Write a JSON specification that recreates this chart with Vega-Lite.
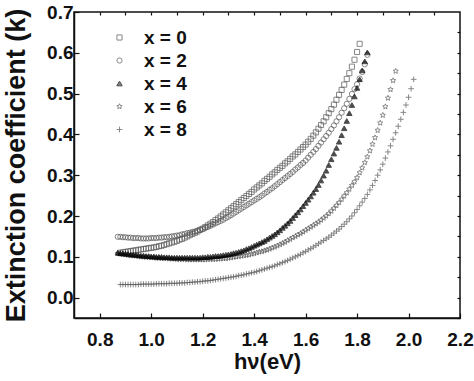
{
"$schema": "https://vega.github.io/schema/vega-lite/v6.json",
"autosize": {"type": "none"},
"padding": {"left": 74, "top": 12, "right": 14, "bottom": 63},
"width": 386,
"height": 306,
"background": "white",
"config": {
  "view": {"stroke": "#111", "strokeWidth": 1.5},
  "axis": {"labelFont": "Liberation Sans", "labelFontWeight": "bold", "labelFontSize": 19, "labelColor": "#111", "titleFont": "Liberation Sans", "titleFontWeight": "bold", "titleColor": "#111", "grid": false, "domainColor": "#111", "tickColor": "#111", "domainWidth": 1.5, "tickWidth": 1.2}
},
"data": {"values": [
{"s":"0","e":0.88,"k":0.110},{"s":"0","e":0.89,"k":0.111},{"s":"0","e":0.90,"k":0.112},{"s":"0","e":0.91,"k":0.113},{"s":"0","e":0.92,"k":0.114},{"s":"0","e":0.93,"k":0.115},{"s":"0","e":0.94,"k":0.116},{"s":"0","e":0.95,"k":0.117},{"s":"0","e":0.96,"k":0.118},{"s":"0","e":0.97,"k":0.119},{"s":"0","e":0.98,"k":0.120},{"s":"0","e":0.99,"k":0.121},{"s":"0","e":1.00,"k":0.122},
{"s":"0","e":1.01,"k":0.123},{"s":"0","e":1.02,"k":0.124},{"s":"0","e":1.03,"k":0.126},{"s":"0","e":1.04,"k":0.127},{"s":"0","e":1.05,"k":0.129},{"s":"0","e":1.06,"k":0.131},{"s":"0","e":1.07,"k":0.133},{"s":"0","e":1.08,"k":0.135},{"s":"0","e":1.09,"k":0.137},{"s":"0","e":1.10,"k":0.139},
{"s":"0","e":1.11,"k":0.142},{"s":"0","e":1.12,"k":0.144},{"s":"0","e":1.13,"k":0.147},{"s":"0","e":1.14,"k":0.150},{"s":"0","e":1.15,"k":0.153},{"s":"0","e":1.16,"k":0.156},{"s":"0","e":1.17,"k":0.159},{"s":"0","e":1.18,"k":0.162},{"s":"0","e":1.19,"k":0.166},{"s":"0","e":1.20,"k":0.169},
{"s":"0","e":1.21,"k":0.173},{"s":"0","e":1.22,"k":0.177},{"s":"0","e":1.23,"k":0.181},{"s":"0","e":1.24,"k":0.185},{"s":"0","e":1.25,"k":0.190},{"s":"0","e":1.26,"k":0.194},{"s":"0","e":1.27,"k":0.199},{"s":"0","e":1.28,"k":0.204},{"s":"0","e":1.29,"k":0.209},{"s":"0","e":1.30,"k":0.214},
{"s":"0","e":1.31,"k":0.219},{"s":"0","e":1.32,"k":0.224},{"s":"0","e":1.33,"k":0.229},{"s":"0","e":1.34,"k":0.234},{"s":"0","e":1.35,"k":0.239},{"s":"0","e":1.36,"k":0.244},{"s":"0","e":1.37,"k":0.249},{"s":"0","e":1.38,"k":0.254},{"s":"0","e":1.39,"k":0.259},{"s":"0","e":1.40,"k":0.265},
{"s":"0","e":1.41,"k":0.270},{"s":"0","e":1.42,"k":0.275},{"s":"0","e":1.43,"k":0.280},{"s":"0","e":1.44,"k":0.286},{"s":"0","e":1.45,"k":0.291},{"s":"0","e":1.46,"k":0.296},{"s":"0","e":1.47,"k":0.302},{"s":"0","e":1.48,"k":0.307},{"s":"0","e":1.49,"k":0.313},{"s":"0","e":1.50,"k":0.318},
{"s":"0","e":1.51,"k":0.323},{"s":"0","e":1.52,"k":0.329},{"s":"0","e":1.53,"k":0.334},{"s":"0","e":1.54,"k":0.340},{"s":"0","e":1.55,"k":0.346},{"s":"0","e":1.56,"k":0.351},{"s":"0","e":1.57,"k":0.357},{"s":"0","e":1.58,"k":0.363},{"s":"0","e":1.59,"k":0.369},{"s":"0","e":1.60,"k":0.375},
{"s":"0","e":1.61,"k":0.382},{"s":"0","e":1.62,"k":0.389},{"s":"0","e":1.63,"k":0.397},{"s":"0","e":1.64,"k":0.405},{"s":"0","e":1.65,"k":0.414},{"s":"0","e":1.66,"k":0.423},{"s":"0","e":1.67,"k":0.432},{"s":"0","e":1.68,"k":0.442},{"s":"0","e":1.69,"k":0.452},{"s":"0","e":1.70,"k":0.462},
{"s":"0","e":1.71,"k":0.473},{"s":"0","e":1.72,"k":0.485},{"s":"0","e":1.73,"k":0.497},{"s":"0","e":1.74,"k":0.509},{"s":"0","e":1.75,"k":0.522},{"s":"0","e":1.76,"k":0.536},{"s":"0","e":1.77,"k":0.550},{"s":"0","e":1.78,"k":0.566},{"s":"0","e":1.79,"k":0.583},{"s":"0","e":1.80,"k":0.602},{"s":"0","e":1.81,"k":0.622},

{"s":"2","e":0.87,"k":0.149},{"s":"2","e":0.88,"k":0.149},{"s":"2","e":0.89,"k":0.148},{"s":"2","e":0.90,"k":0.148},{"s":"2","e":0.91,"k":0.147},{"s":"2","e":0.92,"k":0.147},{"s":"2","e":0.93,"k":0.146},{"s":"2","e":0.94,"k":0.146},{"s":"2","e":0.95,"k":0.146},{"s":"2","e":0.96,"k":0.145},{"s":"2","e":0.97,"k":0.145},{"s":"2","e":0.98,"k":0.145},{"s":"2","e":0.99,"k":0.145},{"s":"2","e":1.00,"k":0.146},
{"s":"2","e":1.01,"k":0.146},{"s":"2","e":1.02,"k":0.146},{"s":"2","e":1.03,"k":0.147},{"s":"2","e":1.04,"k":0.147},{"s":"2","e":1.05,"k":0.148},{"s":"2","e":1.06,"k":0.148},{"s":"2","e":1.07,"k":0.149},{"s":"2","e":1.08,"k":0.150},{"s":"2","e":1.09,"k":0.151},{"s":"2","e":1.10,"k":0.152},
{"s":"2","e":1.11,"k":0.153},{"s":"2","e":1.12,"k":0.155},{"s":"2","e":1.13,"k":0.156},{"s":"2","e":1.14,"k":0.158},{"s":"2","e":1.15,"k":0.159},{"s":"2","e":1.16,"k":0.161},{"s":"2","e":1.17,"k":0.162},{"s":"2","e":1.18,"k":0.164},{"s":"2","e":1.19,"k":0.166},{"s":"2","e":1.20,"k":0.168},
{"s":"2","e":1.21,"k":0.171},{"s":"2","e":1.22,"k":0.173},{"s":"2","e":1.23,"k":0.176},{"s":"2","e":1.24,"k":0.179},{"s":"2","e":1.25,"k":0.182},{"s":"2","e":1.26,"k":0.185},{"s":"2","e":1.27,"k":0.188},{"s":"2","e":1.28,"k":0.191},{"s":"2","e":1.29,"k":0.195},{"s":"2","e":1.30,"k":0.198},
{"s":"2","e":1.31,"k":0.202},{"s":"2","e":1.32,"k":0.206},{"s":"2","e":1.33,"k":0.210},{"s":"2","e":1.34,"k":0.214},{"s":"2","e":1.35,"k":0.218},{"s":"2","e":1.36,"k":0.222},{"s":"2","e":1.37,"k":0.226},{"s":"2","e":1.38,"k":0.230},{"s":"2","e":1.39,"k":0.234},{"s":"2","e":1.40,"k":0.238},
{"s":"2","e":1.41,"k":0.242},{"s":"2","e":1.42,"k":0.246},{"s":"2","e":1.43,"k":0.250},{"s":"2","e":1.44,"k":0.255},{"s":"2","e":1.45,"k":0.259},{"s":"2","e":1.46,"k":0.264},{"s":"2","e":1.47,"k":0.268},{"s":"2","e":1.48,"k":0.273},{"s":"2","e":1.49,"k":0.278},{"s":"2","e":1.50,"k":0.283},
{"s":"2","e":1.51,"k":0.288},{"s":"2","e":1.52,"k":0.293},{"s":"2","e":1.53,"k":0.298},{"s":"2","e":1.54,"k":0.303},{"s":"2","e":1.55,"k":0.308},{"s":"2","e":1.56,"k":0.314},{"s":"2","e":1.57,"k":0.319},{"s":"2","e":1.58,"k":0.325},{"s":"2","e":1.59,"k":0.330},{"s":"2","e":1.60,"k":0.336},
{"s":"2","e":1.61,"k":0.343},{"s":"2","e":1.62,"k":0.350},{"s":"2","e":1.63,"k":0.357},{"s":"2","e":1.64,"k":0.364},{"s":"2","e":1.65,"k":0.372},{"s":"2","e":1.66,"k":0.380},{"s":"2","e":1.67,"k":0.388},{"s":"2","e":1.68,"k":0.396},{"s":"2","e":1.69,"k":0.404},{"s":"2","e":1.70,"k":0.413},
{"s":"2","e":1.71,"k":0.422},{"s":"2","e":1.72,"k":0.432},{"s":"2","e":1.73,"k":0.442},{"s":"2","e":1.74,"k":0.453},{"s":"2","e":1.75,"k":0.464},{"s":"2","e":1.76,"k":0.475},{"s":"2","e":1.77,"k":0.487},{"s":"2","e":1.78,"k":0.499},{"s":"2","e":1.79,"k":0.511},{"s":"2","e":1.80,"k":0.523},
{"s":"2","e":1.81,"k":0.537},{"s":"2","e":1.82,"k":0.553},{"s":"2","e":1.83,"k":0.572},{"s":"2","e":1.84,"k":0.595},

{"s":"6","e":0.87,"k":0.108},{"s":"6","e":0.88,"k":0.107},{"s":"6","e":0.89,"k":0.106},{"s":"6","e":0.90,"k":0.105},{"s":"6","e":0.91,"k":0.104},{"s":"6","e":0.92,"k":0.103},{"s":"6","e":0.93,"k":0.103},{"s":"6","e":0.94,"k":0.102},{"s":"6","e":0.95,"k":0.101},{"s":"6","e":0.96,"k":0.100},{"s":"6","e":0.97,"k":0.100},{"s":"6","e":0.98,"k":0.099},{"s":"6","e":0.99,"k":0.099},{"s":"6","e":1.00,"k":0.098},
{"s":"6","e":1.01,"k":0.098},{"s":"6","e":1.02,"k":0.097},{"s":"6","e":1.03,"k":0.097},{"s":"6","e":1.04,"k":0.096},{"s":"6","e":1.05,"k":0.096},{"s":"6","e":1.06,"k":0.096},{"s":"6","e":1.07,"k":0.095},{"s":"6","e":1.08,"k":0.095},{"s":"6","e":1.09,"k":0.095},{"s":"6","e":1.10,"k":0.094},
{"s":"6","e":1.11,"k":0.094},{"s":"6","e":1.12,"k":0.094},{"s":"6","e":1.13,"k":0.094},{"s":"6","e":1.14,"k":0.093},{"s":"6","e":1.15,"k":0.093},{"s":"6","e":1.16,"k":0.093},{"s":"6","e":1.17,"k":0.093},{"s":"6","e":1.18,"k":0.093},{"s":"6","e":1.19,"k":0.093},{"s":"6","e":1.20,"k":0.093},
{"s":"6","e":1.21,"k":0.093},{"s":"6","e":1.22,"k":0.094},{"s":"6","e":1.23,"k":0.094},{"s":"6","e":1.24,"k":0.094},{"s":"6","e":1.25,"k":0.094},{"s":"6","e":1.26,"k":0.095},{"s":"6","e":1.27,"k":0.095},{"s":"6","e":1.28,"k":0.096},{"s":"6","e":1.29,"k":0.096},{"s":"6","e":1.30,"k":0.097},
{"s":"6","e":1.31,"k":0.098},{"s":"6","e":1.32,"k":0.099},{"s":"6","e":1.33,"k":0.100},{"s":"6","e":1.34,"k":0.101},{"s":"6","e":1.35,"k":0.102},{"s":"6","e":1.36,"k":0.103},{"s":"6","e":1.37,"k":0.104},{"s":"6","e":1.38,"k":0.105},{"s":"6","e":1.39,"k":0.107},{"s":"6","e":1.40,"k":0.108},
{"s":"6","e":1.41,"k":0.110},{"s":"6","e":1.42,"k":0.112},{"s":"6","e":1.43,"k":0.113},{"s":"6","e":1.44,"k":0.115},{"s":"6","e":1.45,"k":0.117},{"s":"6","e":1.46,"k":0.119},{"s":"6","e":1.47,"k":0.122},{"s":"6","e":1.48,"k":0.124},{"s":"6","e":1.49,"k":0.127},{"s":"6","e":1.50,"k":0.130},
{"s":"6","e":1.51,"k":0.133},{"s":"6","e":1.52,"k":0.136},{"s":"6","e":1.53,"k":0.140},{"s":"6","e":1.54,"k":0.143},{"s":"6","e":1.55,"k":0.147},{"s":"6","e":1.56,"k":0.150},{"s":"6","e":1.57,"k":0.154},{"s":"6","e":1.58,"k":0.157},{"s":"6","e":1.59,"k":0.161},{"s":"6","e":1.60,"k":0.165},
{"s":"6","e":1.61,"k":0.169},{"s":"6","e":1.62,"k":0.173},{"s":"6","e":1.63,"k":0.177},{"s":"6","e":1.64,"k":0.181},{"s":"6","e":1.65,"k":0.185},{"s":"6","e":1.66,"k":0.190},{"s":"6","e":1.67,"k":0.195},{"s":"6","e":1.68,"k":0.200},{"s":"6","e":1.69,"k":0.206},{"s":"6","e":1.70,"k":0.212},
{"s":"6","e":1.71,"k":0.219},{"s":"6","e":1.72,"k":0.226},{"s":"6","e":1.73,"k":0.233},{"s":"6","e":1.74,"k":0.241},{"s":"6","e":1.75,"k":0.249},{"s":"6","e":1.76,"k":0.257},{"s":"6","e":1.77,"k":0.266},{"s":"6","e":1.78,"k":0.275},{"s":"6","e":1.79,"k":0.284},{"s":"6","e":1.80,"k":0.294},
{"s":"6","e":1.81,"k":0.306},{"s":"6","e":1.82,"k":0.318},{"s":"6","e":1.83,"k":0.331},{"s":"6","e":1.84,"k":0.345},{"s":"6","e":1.85,"k":0.360},{"s":"6","e":1.86,"k":0.376},{"s":"6","e":1.87,"k":0.392},{"s":"6","e":1.88,"k":0.410},{"s":"6","e":1.89,"k":0.428},{"s":"6","e":1.90,"k":0.447},
{"s":"6","e":1.91,"k":0.468},{"s":"6","e":1.92,"k":0.489},{"s":"6","e":1.93,"k":0.510},{"s":"6","e":1.94,"k":0.532},{"s":"6","e":1.95,"k":0.555},

{"s":"8","e":0.88,"k":0.032},{"s":"8","e":0.89,"k":0.032},{"s":"8","e":0.90,"k":0.032},{"s":"8","e":0.91,"k":0.032},{"s":"8","e":0.92,"k":0.032},{"s":"8","e":0.93,"k":0.032},{"s":"8","e":0.94,"k":0.032},{"s":"8","e":0.95,"k":0.032},{"s":"8","e":0.96,"k":0.033},{"s":"8","e":0.97,"k":0.033},{"s":"8","e":0.98,"k":0.033},{"s":"8","e":0.99,"k":0.033},{"s":"8","e":1.00,"k":0.033},
{"s":"8","e":1.01,"k":0.033},{"s":"8","e":1.02,"k":0.034},{"s":"8","e":1.03,"k":0.034},{"s":"8","e":1.04,"k":0.034},{"s":"8","e":1.05,"k":0.034},{"s":"8","e":1.06,"k":0.034},{"s":"8","e":1.07,"k":0.035},{"s":"8","e":1.08,"k":0.035},{"s":"8","e":1.09,"k":0.035},{"s":"8","e":1.10,"k":0.035},
{"s":"8","e":1.11,"k":0.036},{"s":"8","e":1.12,"k":0.036},{"s":"8","e":1.13,"k":0.036},{"s":"8","e":1.14,"k":0.037},{"s":"8","e":1.15,"k":0.037},{"s":"8","e":1.16,"k":0.038},{"s":"8","e":1.17,"k":0.038},{"s":"8","e":1.18,"k":0.039},{"s":"8","e":1.19,"k":0.039},{"s":"8","e":1.20,"k":0.040},
{"s":"8","e":1.21,"k":0.041},{"s":"8","e":1.22,"k":0.041},{"s":"8","e":1.23,"k":0.042},{"s":"8","e":1.24,"k":0.043},{"s":"8","e":1.25,"k":0.044},{"s":"8","e":1.26,"k":0.045},{"s":"8","e":1.27,"k":0.046},{"s":"8","e":1.28,"k":0.047},{"s":"8","e":1.29,"k":0.048},{"s":"8","e":1.30,"k":0.049},
{"s":"8","e":1.31,"k":0.050},{"s":"8","e":1.32,"k":0.051},{"s":"8","e":1.33,"k":0.052},{"s":"8","e":1.34,"k":0.054},{"s":"8","e":1.35,"k":0.055},{"s":"8","e":1.36,"k":0.056},{"s":"8","e":1.37,"k":0.058},{"s":"8","e":1.38,"k":0.059},{"s":"8","e":1.39,"k":0.061},{"s":"8","e":1.40,"k":0.062},
{"s":"8","e":1.41,"k":0.064},{"s":"8","e":1.42,"k":0.066},{"s":"8","e":1.43,"k":0.068},{"s":"8","e":1.44,"k":0.070},{"s":"8","e":1.45,"k":0.072},{"s":"8","e":1.46,"k":0.074},{"s":"8","e":1.47,"k":0.076},{"s":"8","e":1.48,"k":0.078},{"s":"8","e":1.49,"k":0.081},{"s":"8","e":1.50,"k":0.083},
{"s":"8","e":1.51,"k":0.086},{"s":"8","e":1.52,"k":0.088},{"s":"8","e":1.53,"k":0.091},{"s":"8","e":1.54,"k":0.094},{"s":"8","e":1.55,"k":0.097},{"s":"8","e":1.56,"k":0.100},{"s":"8","e":1.57,"k":0.103},{"s":"8","e":1.58,"k":0.106},{"s":"8","e":1.59,"k":0.110},{"s":"8","e":1.60,"k":0.113},
{"s":"8","e":1.61,"k":0.117},{"s":"8","e":1.62,"k":0.120},{"s":"8","e":1.63,"k":0.124},{"s":"8","e":1.64,"k":0.128},{"s":"8","e":1.65,"k":0.132},{"s":"8","e":1.66,"k":0.136},{"s":"8","e":1.67,"k":0.140},{"s":"8","e":1.68,"k":0.144},{"s":"8","e":1.69,"k":0.148},{"s":"8","e":1.70,"k":0.153},
{"s":"8","e":1.71,"k":0.158},{"s":"8","e":1.72,"k":0.163},{"s":"8","e":1.73,"k":0.168},{"s":"8","e":1.74,"k":0.174},{"s":"8","e":1.75,"k":0.180},{"s":"8","e":1.76,"k":0.186},{"s":"8","e":1.77,"k":0.193},{"s":"8","e":1.78,"k":0.200},{"s":"8","e":1.79,"k":0.208},{"s":"8","e":1.80,"k":0.216},
{"s":"8","e":1.81,"k":0.225},{"s":"8","e":1.82,"k":0.234},{"s":"8","e":1.83,"k":0.243},{"s":"8","e":1.84,"k":0.253},{"s":"8","e":1.85,"k":0.264},{"s":"8","e":1.86,"k":0.275},{"s":"8","e":1.87,"k":0.287},{"s":"8","e":1.88,"k":0.300},{"s":"8","e":1.89,"k":0.313},{"s":"8","e":1.90,"k":0.327},
{"s":"8","e":1.91,"k":0.342},{"s":"8","e":1.92,"k":0.357},{"s":"8","e":1.93,"k":0.372},{"s":"8","e":1.94,"k":0.388},{"s":"8","e":1.95,"k":0.404},{"s":"8","e":1.96,"k":0.420},{"s":"8","e":1.97,"k":0.437},{"s":"8","e":1.98,"k":0.454},{"s":"8","e":1.99,"k":0.472},{"s":"8","e":2.00,"k":0.491},{"s":"8","e":2.01,"k":0.512},{"s":"8","e":2.02,"k":0.535},

{"s":"4","e":0.87,"k":0.110},{"s":"4","e":0.88,"k":0.109},{"s":"4","e":0.89,"k":0.108},{"s":"4","e":0.90,"k":0.108},{"s":"4","e":0.91,"k":0.107},{"s":"4","e":0.92,"k":0.106},{"s":"4","e":0.93,"k":0.105},{"s":"4","e":0.94,"k":0.105},{"s":"4","e":0.95,"k":0.104},{"s":"4","e":0.96,"k":0.103},{"s":"4","e":0.97,"k":0.103},{"s":"4","e":0.98,"k":0.102},{"s":"4","e":0.99,"k":0.102},{"s":"4","e":1.00,"k":0.101},
{"s":"4","e":1.01,"k":0.101},{"s":"4","e":1.02,"k":0.100},{"s":"4","e":1.03,"k":0.100},{"s":"4","e":1.04,"k":0.100},{"s":"4","e":1.05,"k":0.099},{"s":"4","e":1.06,"k":0.099},{"s":"4","e":1.07,"k":0.099},{"s":"4","e":1.08,"k":0.098},{"s":"4","e":1.09,"k":0.098},{"s":"4","e":1.10,"k":0.098},
{"s":"4","e":1.11,"k":0.098},{"s":"4","e":1.12,"k":0.098},{"s":"4","e":1.13,"k":0.098},{"s":"4","e":1.14,"k":0.098},{"s":"4","e":1.15,"k":0.098},{"s":"4","e":1.16,"k":0.098},{"s":"4","e":1.17,"k":0.098},{"s":"4","e":1.18,"k":0.098},{"s":"4","e":1.19,"k":0.098},{"s":"4","e":1.20,"k":0.099},
{"s":"4","e":1.21,"k":0.099},{"s":"4","e":1.22,"k":0.100},{"s":"4","e":1.23,"k":0.100},{"s":"4","e":1.24,"k":0.101},{"s":"4","e":1.25,"k":0.102},{"s":"4","e":1.26,"k":0.102},{"s":"4","e":1.27,"k":0.103},{"s":"4","e":1.28,"k":0.104},{"s":"4","e":1.29,"k":0.105},{"s":"4","e":1.30,"k":0.106},
{"s":"4","e":1.31,"k":0.107},{"s":"4","e":1.32,"k":0.109},{"s":"4","e":1.33,"k":0.110},{"s":"4","e":1.34,"k":0.112},{"s":"4","e":1.35,"k":0.114},{"s":"4","e":1.36,"k":0.116},{"s":"4","e":1.37,"k":0.119},{"s":"4","e":1.38,"k":0.121},{"s":"4","e":1.39,"k":0.124},{"s":"4","e":1.40,"k":0.127},
{"s":"4","e":1.41,"k":0.130},{"s":"4","e":1.42,"k":0.133},{"s":"4","e":1.43,"k":0.136},{"s":"4","e":1.44,"k":0.139},{"s":"4","e":1.45,"k":0.143},{"s":"4","e":1.46,"k":0.147},{"s":"4","e":1.47,"k":0.151},{"s":"4","e":1.48,"k":0.155},{"s":"4","e":1.49,"k":0.160},{"s":"4","e":1.50,"k":0.165},
{"s":"4","e":1.51,"k":0.171},{"s":"4","e":1.52,"k":0.176},{"s":"4","e":1.53,"k":0.182},{"s":"4","e":1.54,"k":0.188},{"s":"4","e":1.55,"k":0.195},{"s":"4","e":1.56,"k":0.202},{"s":"4","e":1.57,"k":0.209},{"s":"4","e":1.58,"k":0.216},{"s":"4","e":1.59,"k":0.224},{"s":"4","e":1.60,"k":0.232},
{"s":"4","e":1.61,"k":0.240},{"s":"4","e":1.62,"k":0.248},{"s":"4","e":1.63,"k":0.257},{"s":"4","e":1.64,"k":0.266},{"s":"4","e":1.65,"k":0.276},{"s":"4","e":1.66,"k":0.287},{"s":"4","e":1.67,"k":0.299},{"s":"4","e":1.68,"k":0.311},{"s":"4","e":1.69,"k":0.325},{"s":"4","e":1.70,"k":0.339},
{"s":"4","e":1.71,"k":0.353},{"s":"4","e":1.72,"k":0.367},{"s":"4","e":1.73,"k":0.382},{"s":"4","e":1.74,"k":0.398},{"s":"4","e":1.75,"k":0.415},{"s":"4","e":1.76,"k":0.433},{"s":"4","e":1.77,"k":0.452},{"s":"4","e":1.78,"k":0.472},{"s":"4","e":1.79,"k":0.493},{"s":"4","e":1.80,"k":0.514},
{"s":"4","e":1.81,"k":0.535},{"s":"4","e":1.82,"k":0.557},{"s":"4","e":1.83,"k":0.579},{"s":"4","e":1.84,"k":0.601}
]},
"layer": [
  {
    "mark": {"type": "point", "opacity": 0},
    "encoding": {
      "x": {"field": "e", "type": "quantitative", "scale": {"domain": [0.7, 2.2], "nice": false, "zero": false},
            "axis": {"orient": "top", "labels": false, "title": null, "domain": false, "values": [0.8,0.9,1.0,1.1,1.2,1.3,1.4,1.5,1.6,1.7,1.8,1.9,2.0,2.1], "tickSize": -3}},
      "y": {"field": "k", "type": "quantitative", "scale": {"domain": [-0.05, 0.7], "nice": false, "zero": false},
            "axis": {"orient": "right", "labels": false, "title": null, "domain": false, "values": [-0.05,0,0.05,0.1,0.15,0.2,0.25,0.3,0.35,0.4,0.45,0.5,0.55,0.6,0.65], "tickSize": -3}}
    }
  },
  {
    "mark": {"type": "point", "filled": false, "strokeWidth": 1},
    "encoding": {
      "x": {"field": "e", "type": "quantitative", "scale": {"domain": [0.7, 2.2], "nice": false, "zero": false},
            "axis": {"orient": "bottom", "title": "hν(eV)", "titleFontSize": 22, "titlePadding": 2, "values": [0.8,1.0,1.2,1.4,1.6,1.8,2.0,2.2], "format": ".1f", "tickSize": -5, "labelPadding": 17, "labelFlush": false}},
      "y": {"field": "k", "type": "quantitative", "scale": {"domain": [-0.05, 0.7], "nice": false, "zero": false},
            "axis": {"orient": "left", "title": "Extinction coefficient (k)", "titleFontSize": 27, "titlePadding": 16, "values": [0,0.1,0.2,0.3,0.4,0.5,0.6,0.7], "format": ".1f", "tickSize": -5, "labelPadding": 6, "labelFlush": false}},
      "shape": {"field": "s", "type": "nominal",
        "scale": {"domain": ["0","2","4","6","8"], "range": ["square","circle","triangle-up","M0,-1L0.264,-0.364L0.951,-0.309L0.428,0.139L0.588,0.809L0,0.45L-0.588,0.809L-0.428,0.139L-0.951,-0.309L-0.264,-0.364Z","M-1,0H1M0,-1V1"]},
        "legend": {"orient": "none", "legendX": 36, "legendY": 16, "title": null, "padding": 0, "labelFont": "Liberation Sans", "labelFontWeight": "bold", "labelFontSize": 19, "labelColor": "#111", "rowPadding": 3, "labelOffset": 15, "labelExpr": "'x = ' + datum.label", "symbolStrokeWidth": 1}},
      "size": {"field": "s", "type": "nominal", "scale": {"domain": ["0","2","4","6","8"], "range": [26, 32, 42, 42, 30]}},
      "stroke": {"field": "s", "type": "nominal", "scale": {"domain": ["0","2","4","6","8"], "range": ["#555","#555","#000","#555","#555"]}},
      "fill": {"field": "s", "type": "nominal", "scale": {"domain": ["0","2","4","6","8"], "range": ["transparent","transparent","#000","transparent","transparent"]}}
    }
  }
],
"resolve": {"scale": {"x": "independent", "y": "independent"}, "axis": {"x": "independent", "y": "independent"}}
}
